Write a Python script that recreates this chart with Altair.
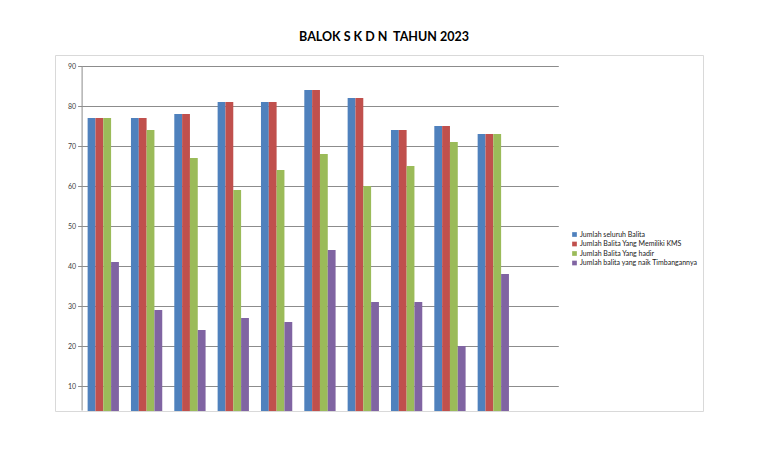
import altair as alt
import pandas as pd

categories = ["1", "2", "3", "4", "5", "6", "7", "8", "9", "10", "11"]
series = [
    "Jumlah seluruh Balita",
    "Jumlah Balita Yang Memiliki KMS",
    "Jumlah Balita Yang hadir",
    "Jumlah balita yang naik Timbangannya",
]
seluruh = [77, 77, 78, 81, 81, 84, 82, 74, 75, 73]
kms = [77, 77, 78, 81, 81, 84, 82, 74, 75, 73]
hadir = [77, 74, 67, 59, 64, 68, 60, 65, 71, 73]
naik = [41, 29, 24, 27, 26, 44, 31, 31, 20, 38]
colors = ["#4F81BD", "#C0504D", "#9BBB59", "#8064A2"]

rows = []
for vals, s in zip([seluruh, kms, hadir, naik], series):
    for c, v in zip(categories, vals):
        rows.append({"bulan": c, "seri": s, "nilai": v})
df = pd.DataFrame(rows)

chart = (
    alt.Chart(df)
    .mark_bar(clip=True)
    .encode(
        x=alt.X(
            "bulan:N",
            scale=alt.Scale(domain=categories, range=[26.6, 503.3], paddingInner=0, paddingOuter=0),
            axis=None,
            sort=categories,
        ),
        xOffset=alt.XOffset(
            "seri:N",
            sort=series,
            scale=alt.Scale(domain=series, paddingInner=0, paddingOuter=0.77),
        ),
        y=alt.Y(
            "nilai:Q",
            scale=alt.Scale(domain=[4, 90], range=[355, 11], nice=False, zero=False),
            axis=alt.Axis(
                values=[10, 20, 30, 40, 50, 60, 70, 80, 90],
                title=None,
                offset=-26.6,
                grid=True,
                gridColor="#8c8c8c",
                gridWidth=1,
                domainColor="#8c8c8c",
                tickColor="#8c8c8c",
                tickSize=4,
                labelPadding=2,
                labelFont="Lato",
                labelFontSize=7,
                labelColor="#404040",
            ),
        ),
        color=alt.Color(
            "seri:N",
            scale=alt.Scale(domain=series, range=colors),
            legend=alt.Legend(
                title=None,
                orient="none",
                legendX=516,
                legendY=176,
                symbolType="square",
                symbolSize=22,
                symbolStrokeWidth=0,
                labelFont="Lato",
                labelFontSize=7,
                labelColor="#202020",
                rowPadding=1.5,
                labelOffset=2,
            ),
        ),
    )
    .properties(
        width=648,
        height=356,
        autosize=alt.AutoSizeParams(type="none"),
        padding={"left": 47, "top": 47, "right": 10, "bottom": 10},
        title=alt.TitleParams(
            "BALOK S K D N\u00a0 TAHUN 2023",
            font="Lato",
            fontSize=12.5,
            fontWeight="bold",
            color="#000000",
            anchor="middle",
            offset=12,
            dx=5,
        ),
    )
    .configure_view(stroke="#d9d9d9", strokeWidth=1)
)

chart.save("out.html", embed_options={"renderer": "svg", "actions": False})
